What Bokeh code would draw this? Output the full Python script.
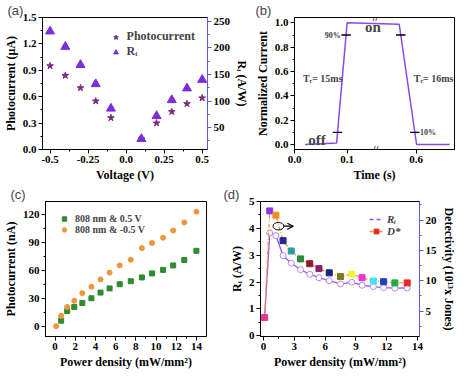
import numpy as np
from bokeh.plotting import figure
from bokeh.layouts import column, row
from bokeh.models import (Range1d, LinearAxis, FixedTicker, PrintfTickFormatter, Label,
                          Legend, LegendItem, Arrow, OpenHead, Title)
from bokeh.core.properties import value
from bokeh.embed import file_html
from bokeh.resources import INLINE

FONT = "Liberation Serif"
PANEL_FONT = "Liberation Sans"

# ---------------- data (a) ----------------
voltage_v = [-0.5, -0.4, -0.3, -0.2, -0.1, 0.1, 0.2, 0.3, 0.4, 0.5]
photocurrent_ua = [0.95, 0.84, 0.70, 0.55, 0.36, 0.12, 0.30, 0.43, 0.52, 0.585]
responsivity_a = [231, 202, 168, 132, 86, 29, 72, 102, 124, 140]
a_xticks = [-0.5, -0.25, 0.0, 0.25, 0.5]
a_xlabels = ["-0.5", "-0.25", "0.0", "0.25", "0.5"]
a_yticks = [0.0, 0.3, 0.6, 0.9, 1.2, 1.5]
a_rticks = [50, 100, 150, 200, 250]

# ---------------- data (b) ----------------
time_s = [0.02, 0.080, 0.100, 0.568, 0.601, 0.664]
norm_current = [0.0, 0.012, 1.0, 0.988, 0.0, 0.0]
b_xticks_s = [0.0, 0.1, 0.6]
b_xlabels = ["0.0", "0.1", "0.6"]
b_yticks = [0.0, 0.2, 0.4, 0.6, 0.8, 1.0]
break_lo_s, break_hi_s = 0.154, 0.523
rise_label = "Tᵣ= 15ms"
fall_label = "Tᵣ= 16ms"

# ---------------- data (c) ----------------
power_density = [0.1, 0.6, 1.2, 1.9, 2.7, 3.6, 4.5, 5.4, 6.4, 7.5, 8.6, 9.6, 10.7, 11.7, 12.8, 14.0]
photocurrent_neg_na = [0.5, 11.6, 21.2, 27.9, 36.0, 43.0, 50.7, 58.1, 65.8, 71.9, 84.4, 89.9, 95.6, 103.3, 112.0, 123.5]
photocurrent_pos_na = [6.4, 16.7, 21.2, 25.4, 30.5, 36.6, 41.1, 45.6, 48.8, 52.9, 57.2, 61.0, 65.8, 71.6, 81.5]
c_xticks = [0, 2, 4, 6, 8, 10, 12, 14]
c_yticks = [0, 30, 60, 90, 120]

# ---------------- data (d) ----------------
responsivity_d = [0.68, 3.83, 3.73, 2.98, 2.70, 2.46, 2.29, 2.16, 2.05, 1.93, 1.99, 1.88, 1.83, 1.79, 1.77, 1.78]
detectivity = [3.94, 21.5, 20.8, 16.6, 14.9, 13.6, 12.8, 12.0, 11.3, 10.7, 11.1, 10.5, 9.95, 9.85, 9.65, 9.65]
d_marker_colors = ["#e8358f", "#8b35e6", "#ef8a25", "#1f2a8f", "#2b9aa5", "#2e8b3a", "#8b1a2e", "#8a1f6e",
                   "#1a237e", "#7d7d1e", "#f2f23a", "#f030d8", "#3ee6ee", "#1f3fbf", "#22aa44", "#e82828"]
d_xticks = [0, 3, 6, 9, 12, 15]
d_xlabels = ["0", "3", "6", "9", "12", "14"]
d_yticks = [0, 1, 2, 3, 4, 5]
d_rticks = [5, 10, 15, 20]

BLUE_AX = "#5b5be8"


def style_axis(ax, color="black"):
    ax.axis_line_color = color
    ax.major_tick_line_color = color
    ax.minor_tick_line_color = color
    ax.major_tick_in = 0
    ax.major_tick_out = 4
    ax.minor_tick_in = 0
    ax.minor_tick_out = 2
    ax.major_label_text_font = FONT
    ax.major_label_text_font_style = "bold"
    ax.major_label_text_font_size = "11px"
    ax.major_label_text_color = "black"
    ax.axis_label_text_font = FONT
    ax.axis_label_text_font_style = "bold"
    ax.axis_label_text_font_size = "12px"
    ax.axis_label_text_color = "black"
    ax.axis_label_standoff = 2
    ax.major_label_standoff = 2


def make_fig(w, h, xr, yr, left, right, top, bottom, tag):
    p = figure(width=w, height=h, x_range=Range1d(*xr), y_range=Range1d(*yr),
               output_backend="svg", toolbar_location=None,
               min_border_left=left, min_border_right=right,
               min_border_top=top, min_border_bottom=bottom)
    p.xgrid.visible = False
    p.ygrid.visible = False
    p.outline_line_color = "black"
    p.outline_line_width = 1
    p.border_fill_color = "white"
    style_axis(p.xaxis[0])
    style_axis(p.yaxis[0])
    p.title = Title(text=tag, align="left", offset=-(left - 1), standoff=0,
                    text_font=PANEL_FONT, text_font_size="13px", text_font_style="normal")
    return p


def legend_style(lg, size="12px"):
    lg.label_text_font = FONT
    lg.label_text_font_style = "bold"
    lg.label_text_font_size = size
    lg.background_fill_alpha = 0
    lg.border_line_alpha = 0
    lg.spacing = 0
    lg.padding = 2
    lg.label_height = 12
    lg.glyph_height = 12
    lg.glyph_width = 14
    lg.label_standoff = 4


# ====================== panel (a) ======================
a_left, a_right = 36, 44
pa = make_fig(252, 184, (-0.55, 0.535), (0.0, 1.5), a_left, a_right, 5, 31, "(a)")
pa.extra_y_ranges = {"r": Range1d(9, 257)}
pa.xaxis.ticker = FixedTicker(ticks=a_xticks, minor_ticks=[-0.375, -0.125, 0.125, 0.375])
pa.xaxis.major_label_overrides = dict(zip(a_xticks, a_xlabels))
pa.yaxis.ticker = FixedTicker(ticks=a_yticks, minor_ticks=[0.15, 0.45, 0.75, 1.05, 1.35])
pa.yaxis.formatter = PrintfTickFormatter(format="%.1f")
pa.xaxis.axis_label = "Voltage (V)"
pa.yaxis.axis_label = "Photocurrent (μA)"
ra = LinearAxis(y_range_name="r", axis_label="Rᵢ (A/W)",
                ticker=FixedTicker(ticks=a_rticks, minor_ticks=[25, 75, 125, 175, 225]))
style_axis(ra, BLUE_AX)
pa.add_layout(ra, "right")
r_star = pa.scatter(voltage_v, photocurrent_ua, marker="star", size=7,
                    fill_color="#7b2d7f", line_color="#7b2d7f")
r_tri = pa.scatter(voltage_v, responsivity_a, marker="triangle", size=9, y_range_name="r",
                   fill_color="#7a2fd9", line_color="#7a2fd9")
lga = Legend(items=[LegendItem(label="Photocurrent", renderers=[r_star]),
                    LegendItem(label="Rᵢ", renderers=[r_tri])], location="top_right")
legend_style(lga)
pa.add_layout(lga)

# ====================== panel (b) ======================
shift_ms = int(round((break_hi_s - break_lo_s) * 1000))
break_u = int(round(break_lo_s * 1000))


def to_u(t):
    return t * 1000 if t <= break_lo_s else t * 1000 - shift_ms


pb = make_fig(206, 184, (0, 304), (-0.041, 1.044), 40, 4, 7, 31, "(b)")
b_ticks_u = [int(round(to_u(t))) for t in b_xticks_s]
pb.xaxis.ticker = FixedTicker(ticks=b_ticks_u)
pb.xaxis.major_label_overrides = dict(zip(b_ticks_u, b_xlabels))
pb.yaxis.ticker = FixedTicker(ticks=b_yticks, minor_ticks=[0.1, 0.3, 0.5, 0.7, 0.9])
pb.yaxis.formatter = PrintfTickFormatter(format="%.1f")
pb.xaxis.axis_label = "Time (s)"
pb.yaxis.axis_label = "Normalized Current"
u_vals = [to_u(t) for t in time_s]
pb.line(u_vals, norm_current, line_color="#8a4ae6", line_width=1.5)
rise_t = np.interp([0.1, 0.9], norm_current[1:3], time_s[1:3])
fall_t = np.interp([0.1, 0.9], norm_current[3:5][::-1], time_s[3:5][::-1])
mark_u = [to_u(t) for t in list(rise_t) + list(fall_t)]
mark_y = [0.1, 0.9, 0.1, 0.9]
half = 9
pb.segment(x0=[u - half for u in mark_u], y0=mark_y, x1=[u + half for u in mark_u], y1=mark_y,
           line_color="black", line_width=1.3)
pb.text(x=[break_u, break_u], y=[1.044, -0.041], text=["//", "//"], text_align="center",
        text_baseline="middle", text_font=value(FONT), text_font_size="10px", text_font_style="bold")
lbl_kw = dict(text_font=FONT, text_font_style="bold")
pb.add_layout(Label(x=mark_u[1] - half - 1, y=0.9, text="90%", text_align="right", text_baseline="middle",
                    text_font_size="8px", **lbl_kw))
pb.add_layout(Label(x=mark_u[2] + half + 1, y=0.1, text="10%", text_align="left", text_baseline="middle",
                    text_font_size="8px", **lbl_kw))
pb.add_layout(Label(x=16, y=0.545, text=rise_label, text_align="left", text_baseline="middle",
                    text_font_size="10px", **lbl_kw))
pb.add_layout(Label(x=to_u(0.5957), y=0.545, text=fall_label, text_align="left", text_baseline="middle",
                    text_font_size="10px", **lbl_kw))
pb.add_layout(Label(x=26, y=0.035, text="off", text_align="left", text_baseline="middle",
                    text_font_size="15px", **lbl_kw))
pb.add_layout(Label(x=149, y=0.965, text="on", text_align="center", text_baseline="middle",
                    text_font_size="15px", **lbl_kw))

# ====================== panel (c) ======================
pc = make_fig(222, 187, (-0.95, 15.0), (-10.6, 134.5), 36, 16, 12, 32, "(c)")
pc.xaxis.ticker = FixedTicker(ticks=c_xticks, minor_ticks=[1, 3, 5, 7, 9, 11, 13])
pc.yaxis.ticker = FixedTicker(ticks=c_yticks, minor_ticks=[15, 45, 75, 105])
pc.xaxis.axis_label = "Power density (mW/mm²)"
pc.yaxis.axis_label = "Photocurrent (nA)"
r_g = pc.scatter(power_density[1:], photocurrent_pos_na, marker="square", size=5,
                 fill_color="#2e8b2e", line_color="#2e8b2e")
r_o = pc.scatter(power_density, photocurrent_neg_na, marker="circle", size=5,
                 fill_color="#f0953a", line_color="#f0953a")
lgc = Legend(items=[LegendItem(label="808 nm & 0.5 V", renderers=[r_g]),
                    LegendItem(label="808 nm & -0.5 V", renderers=[r_o])], location="top_left")
legend_style(lgc, "10px")
lgc.label_height = 11
lgc.glyph_height = 11
pc.add_layout(lgc)

# ====================== panel (d) ======================
pd_ = make_fig(236, 187, (-0.3, 15.2), (-0.03, 5.0), 38, 34, 12, 32, "(d)")
pd_.extra_y_ranges = {"r": Range1d(0.82, 23.05)}
pd_.xaxis.ticker = FixedTicker(ticks=d_xticks, minor_ticks=[1.5, 4.5, 7.5, 10.5, 13.5])
pd_.xaxis.major_label_overrides = dict(zip(d_xticks, d_xlabels))
pd_.yaxis.ticker = FixedTicker(ticks=d_yticks, minor_ticks=[0.5, 1.5, 2.5, 3.5, 4.5])
pd_.xaxis.axis_label = "Power density (mW/mm²)"
pd_.yaxis.axis_label = "Rᵢ (A/W)"
rd = LinearAxis(y_range_name="r", axis_label="Detectivity (10¹³x Jones)",
                ticker=FixedTicker(ticks=d_rticks, minor_ticks=[2.5, 7.5, 12.5, 17.5, 22.5]))
style_axis(rd, BLUE_AX)
pd_.add_layout(rd, "right")
pd_.line(power_density, responsivity_d, line_color="#9a55e6", line_width=1.3)
pd_.scatter(power_density[1:], responsivity_d[1:], marker="circle", size=6,
            fill_color="white", line_color="#b58af0", line_width=1)
pd_.line(power_density, detectivity, y_range_name="r", line_color="#f09a30", line_width=1.3,
         line_dash="4 2 1 2")
pd_.scatter(power_density, detectivity, y_range_name="r", marker="square", size=6,
            fill_color=d_marker_colors, line_color=d_marker_colors)
nan = [float("nan")]
leg_ri = pd_.line(nan, nan, line_color="#9a55e6", line_width=1.5, line_dash="4 3")
leg_d_line = pd_.line(nan, nan, line_color="#f09a30", line_width=1.3, line_dash="4 2 1 2")
leg_d_sq = pd_.scatter(nan, nan, marker="square", size=6, fill_color="#e82828", line_color="#e82828")
lgd = Legend(items=[LegendItem(label="Rᵢ", renderers=[leg_ri]),
                    LegendItem(label="D*", renderers=[leg_d_line, leg_d_sq])], location="top_right")
legend_style(lgd, "11px")
lgd.label_text_font_style = "bold italic"
pd_.add_layout(lgd)
ell_x = power_density[2] + 0.25
ell_y = 4.08
pd_.ellipse(x=[ell_x], y=[ell_y], width=1.06, height=0.28, fill_color=None, line_color="black", line_width=1)
pd_.add_layout(Arrow(end=OpenHead(size=6, line_width=1.2), x_start=ell_x + 0.53, y_start=ell_y,
                     x_end=ell_x + 1.45, y_end=ell_y, line_width=1.2))

layout = column(row(pa, pb), row(pc, pd_))
open("out.html", "w").write(file_html(layout, INLINE))
